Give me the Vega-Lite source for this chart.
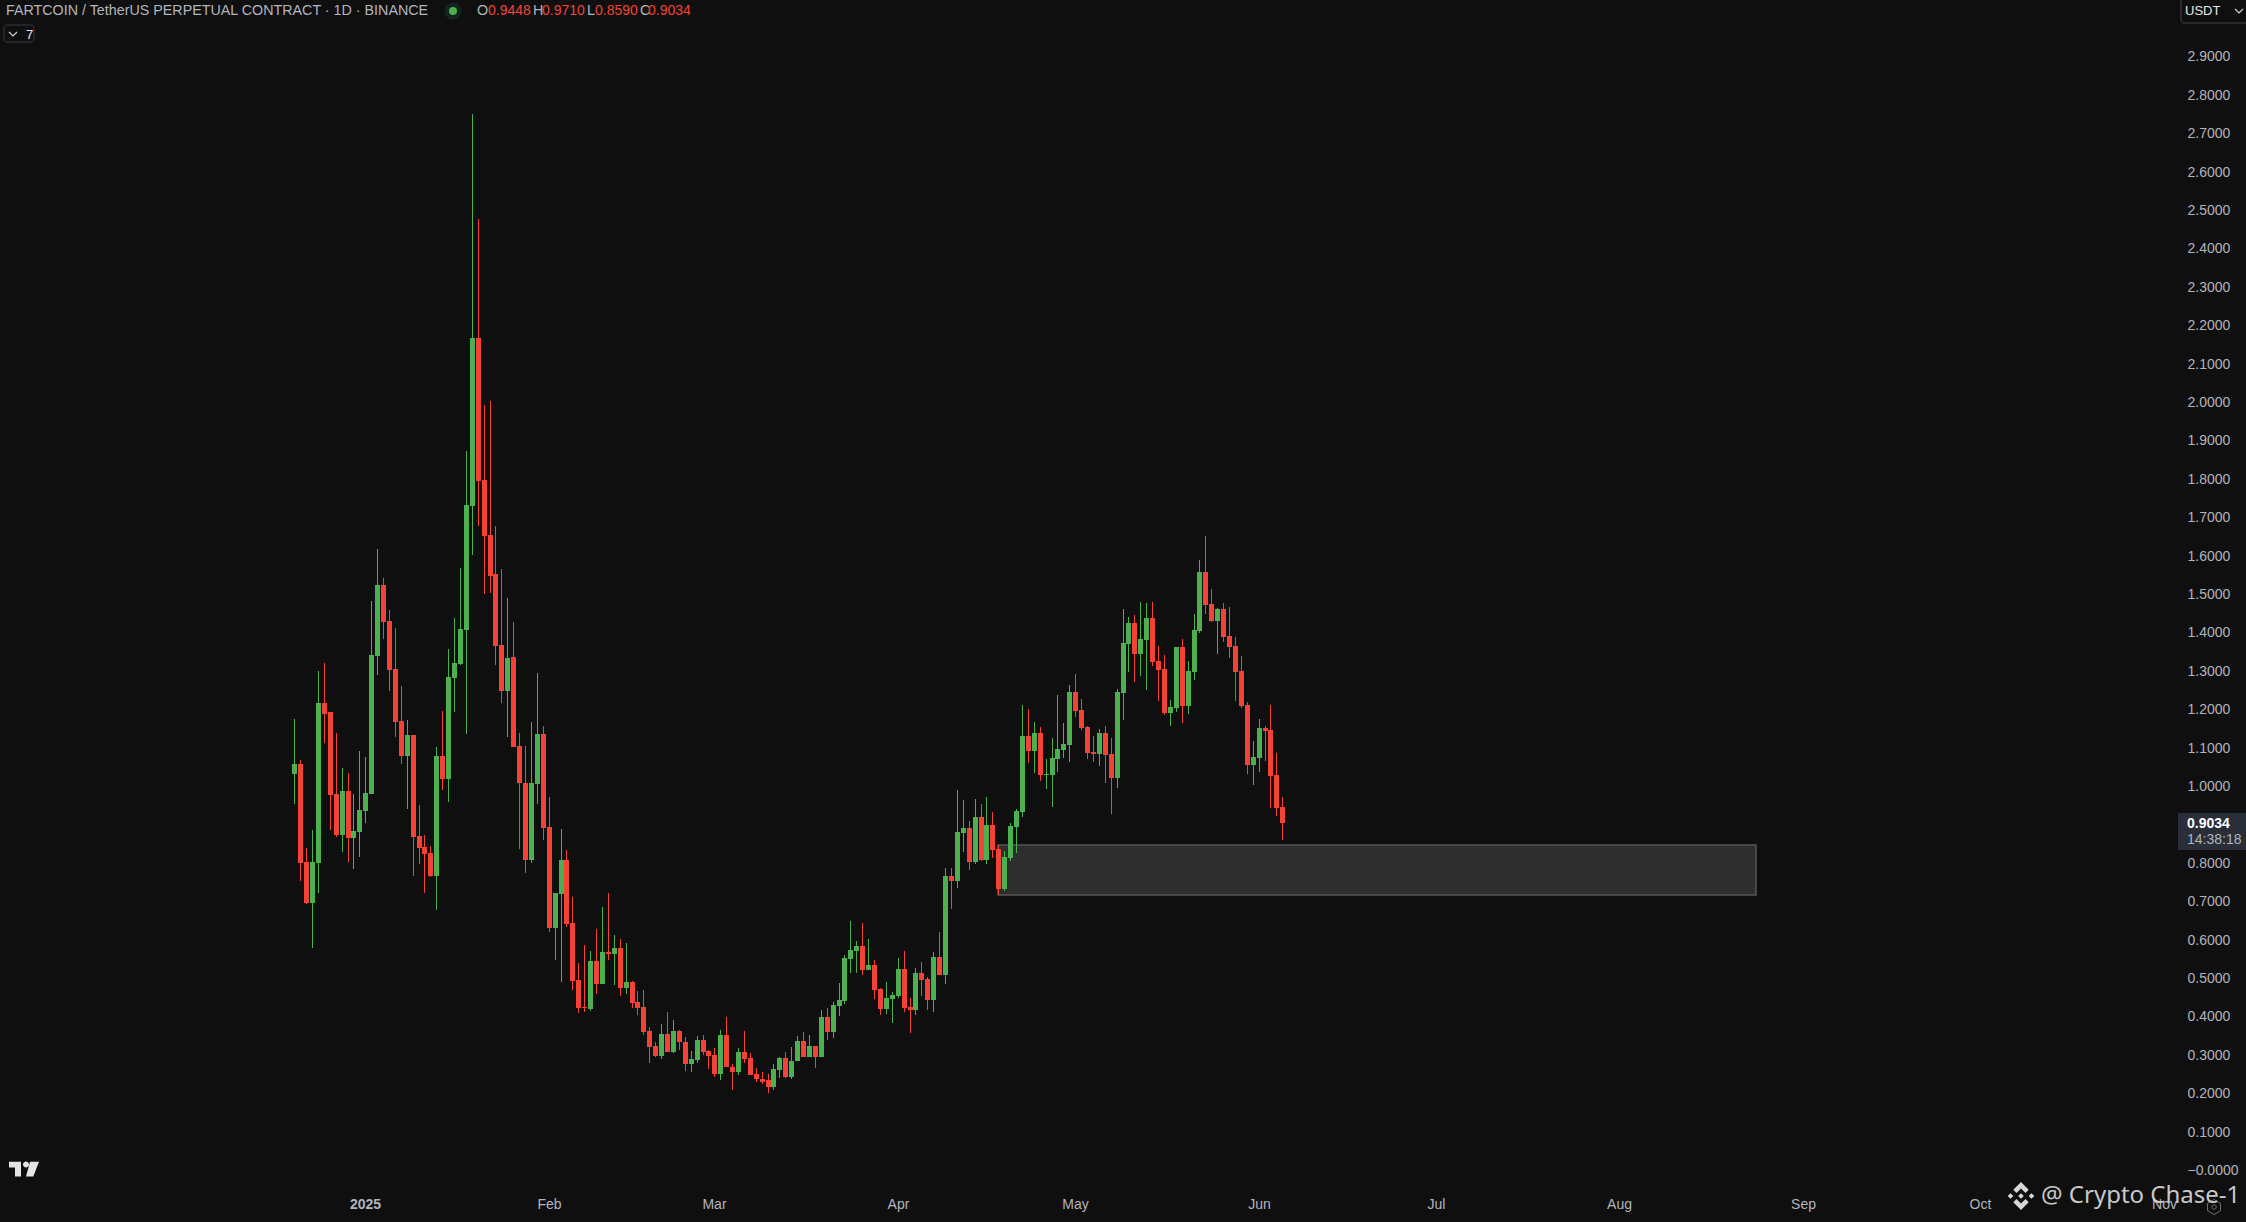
{
  "$schema": "https://vega.github.io/schema/vega-lite/v6.json",
  "width": 2172,
  "height": 1192,
  "padding": {"left": 0, "top": 0, "right": 74, "bottom": 30},
  "autosize": "none",
  "background": "#0F0F0F",
  "config": {
    "view": {"stroke": null},
    "text": {"font": "Liberation Sans"},
    "axis": {"labelFont": "Liberation Sans", "labelFontSize": 14, "labelColor": "#B2B5BE", "grid": false, "domain": false, "ticks": false, "tickSize": 0, "labelOverlap": false, "labelBound": false, "labelFlush": false}
  },
  "data": {"values": [
    {"date":"2024-12-20","open":1.0313,"high":1.1745,"low":0.9540,"close":1.0573},
    {"date":"2024-12-21","open":1.0573,"high":1.0677,"low":0.7526,"close":0.7995},
    {"date":"2024-12-22","open":0.8021,"high":0.8385,"low":0.6927,"close":0.6953},
    {"date":"2024-12-23","open":0.6953,"high":0.8854,"low":0.5781,"close":0.8021},
    {"date":"2024-12-24","open":0.7995,"high":1.2995,"low":0.7214,"close":1.2161},
    {"date":"2024-12-25","open":1.2161,"high":1.3203,"low":1.1120,"close":1.1875},
    {"date":"2024-12-26","open":1.1927,"high":1.1927,"low":0.8854,"close":0.9766},
    {"date":"2024-12-27","open":0.9792,"high":1.1380,"low":0.8672,"close":0.8724},
    {"date":"2024-12-28","open":0.8724,"high":1.0469,"low":0.8281,"close":0.9870},
    {"date":"2024-12-29","open":0.9870,"high":1.0339,"low":0.8021,"close":0.8646},
    {"date":"2024-12-30","open":0.8646,"high":0.9792,"low":0.7839,"close":0.8828},
    {"date":"2024-12-31","open":0.8802,"high":1.0911,"low":0.8151,"close":0.9375},
    {"date":"2025-01-01","open":0.9349,"high":1.0755,"low":0.9036,"close":0.9818},
    {"date":"2025-01-02","open":0.9792,"high":1.4818,"low":0.9792,"close":1.3411},
    {"date":"2025-01-03","open":1.3385,"high":1.6172,"low":1.2891,"close":1.5234},
    {"date":"2025-01-04","open":1.5234,"high":1.5417,"low":1.3828,"close":1.4271},
    {"date":"2025-01-05","open":1.4297,"high":1.4583,"low":1.2474,"close":1.3021},
    {"date":"2025-01-06","open":1.3047,"high":1.4115,"low":1.1276,"close":1.1667},
    {"date":"2025-01-07","open":1.1693,"high":1.2604,"low":1.0573,"close":1.0781},
    {"date":"2025-01-08","open":1.0781,"high":1.1719,"low":0.9401,"close":1.1328},
    {"date":"2025-01-09","open":1.1328,"high":1.1328,"low":0.7656,"close":0.8672},
    {"date":"2025-01-10","open":0.8698,"high":0.9505,"low":0.7969,"close":0.8385},
    {"date":"2025-01-11","open":0.8411,"high":0.8724,"low":0.7214,"close":0.8229},
    {"date":"2025-01-12","open":0.8255,"high":0.8438,"low":0.7630,"close":0.7656},
    {"date":"2025-01-13","open":0.7656,"high":1.1016,"low":0.6771,"close":1.0781},
    {"date":"2025-01-14","open":1.0781,"high":1.1953,"low":0.9896,"close":1.0182},
    {"date":"2025-01-15","open":1.0182,"high":1.3568,"low":0.9583,"close":1.2839},
    {"date":"2025-01-16","open":1.2813,"high":1.4375,"low":1.1927,"close":1.3203},
    {"date":"2025-01-17","open":1.3177,"high":1.5677,"low":1.3151,"close":1.4089},
    {"date":"2025-01-18","open":1.4063,"high":1.8724,"low":1.1354,"close":1.7318},
    {"date":"2025-01-19","open":1.7292,"high":2.7500,"low":1.6016,"close":2.1667},
    {"date":"2025-01-20","open":2.1667,"high":2.4766,"low":1.6771,"close":1.7943},
    {"date":"2025-01-21","open":1.7969,"high":1.9922,"low":1.5000,"close":1.6510},
    {"date":"2025-01-22","open":1.6536,"high":2.0026,"low":1.5026,"close":1.5469},
    {"date":"2025-01-23","open":1.5521,"high":1.6771,"low":1.3151,"close":1.3646},
    {"date":"2025-01-24","open":1.3672,"high":1.5651,"low":1.2161,"close":1.2474},
    {"date":"2025-01-25","open":1.2474,"high":1.4896,"low":1.1276,"close":1.3333},
    {"date":"2025-01-26","open":1.3359,"high":1.4271,"low":1.1016,"close":1.1016},
    {"date":"2025-01-27","open":1.1042,"high":1.1380,"low":0.8359,"close":1.0078},
    {"date":"2025-01-28","open":1.0078,"high":1.1042,"low":0.7734,"close":0.8073},
    {"date":"2025-01-29","open":0.8073,"high":1.1667,"low":0.7995,"close":1.0078},
    {"date":"2025-01-30","open":1.0052,"high":1.2943,"low":0.9531,"close":1.1354},
    {"date":"2025-01-31","open":1.1354,"high":1.1563,"low":0.8594,"close":0.8906},
    {"date":"2025-02-01","open":0.8932,"high":0.9714,"low":0.6198,"close":0.6302},
    {"date":"2025-02-02","open":0.6302,"high":0.7214,"low":0.5469,"close":0.7214},
    {"date":"2025-02-03","open":0.7188,"high":0.8880,"low":0.4896,"close":0.8073},
    {"date":"2025-02-04","open":0.8073,"high":0.8333,"low":0.6328,"close":0.6406},
    {"date":"2025-02-05","open":0.6432,"high":0.7109,"low":0.4688,"close":0.4922},
    {"date":"2025-02-06","open":0.4948,"high":0.5391,"low":0.4089,"close":0.4219},
    {"date":"2025-02-07","open":0.4245,"high":0.5859,"low":0.4115,"close":0.4219},
    {"date":"2025-02-08","open":0.4193,"high":0.5703,"low":0.4141,"close":0.5443},
    {"date":"2025-02-09","open":0.5443,"high":0.6276,"low":0.4583,"close":0.4844},
    {"date":"2025-02-10","open":0.4844,"high":0.6849,"low":0.4844,"close":0.5677},
    {"date":"2025-02-11","open":0.5677,"high":0.7214,"low":0.5469,"close":0.5625},
    {"date":"2025-02-12","open":0.5625,"high":0.6120,"low":0.4818,"close":0.5781},
    {"date":"2025-02-13","open":0.5781,"high":0.6016,"low":0.4531,"close":0.4740},
    {"date":"2025-02-14","open":0.4740,"high":0.5911,"low":0.4583,"close":0.4896},
    {"date":"2025-02-15","open":0.4896,"high":0.4922,"low":0.4219,"close":0.4349},
    {"date":"2025-02-16","open":0.4375,"high":0.4661,"low":0.4036,"close":0.4219},
    {"date":"2025-02-17","open":0.4245,"high":0.4688,"low":0.3516,"close":0.3594},
    {"date":"2025-02-18","open":0.3620,"high":0.3724,"low":0.2786,"close":0.3203},
    {"date":"2025-02-19","open":0.3229,"high":0.3333,"low":0.2943,"close":0.2969},
    {"date":"2025-02-20","open":0.2969,"high":0.3802,"low":0.2891,"close":0.3542},
    {"date":"2025-02-21","open":0.3542,"high":0.4115,"low":0.3073,"close":0.3073},
    {"date":"2025-02-22","open":0.3073,"high":0.3906,"low":0.3047,"close":0.3620},
    {"date":"2025-02-23","open":0.3620,"high":0.3646,"low":0.3125,"close":0.3333},
    {"date":"2025-02-24","open":0.3333,"high":0.3464,"low":0.2578,"close":0.2760},
    {"date":"2025-02-25","open":0.2760,"high":0.3099,"low":0.2552,"close":0.2891},
    {"date":"2025-02-26","open":0.2865,"high":0.3490,"low":0.2786,"close":0.3385},
    {"date":"2025-02-27","open":0.3385,"high":0.3516,"low":0.2995,"close":0.3073},
    {"date":"2025-02-28","open":0.3099,"high":0.3125,"low":0.2630,"close":0.2969},
    {"date":"2025-03-01","open":0.2995,"high":0.3177,"low":0.2422,"close":0.2500},
    {"date":"2025-03-02","open":0.2500,"high":0.3646,"low":0.2344,"close":0.3516},
    {"date":"2025-03-03","open":0.3516,"high":0.3984,"low":0.2682,"close":0.2682},
    {"date":"2025-03-04","open":0.2682,"high":0.2760,"low":0.2083,"close":0.2552},
    {"date":"2025-03-05","open":0.2552,"high":0.3177,"low":0.2474,"close":0.3073},
    {"date":"2025-03-06","open":0.3073,"high":0.3620,"low":0.2786,"close":0.2891},
    {"date":"2025-03-07","open":0.2917,"high":0.3047,"low":0.2474,"close":0.2474},
    {"date":"2025-03-08","open":0.2500,"high":0.2656,"low":0.2292,"close":0.2370},
    {"date":"2025-03-09","open":0.2370,"high":0.2552,"low":0.2240,"close":0.2292},
    {"date":"2025-03-10","open":0.2344,"high":0.2500,"low":0.2005,"close":0.2161},
    {"date":"2025-03-11","open":0.2161,"high":0.2760,"low":0.2083,"close":0.2630},
    {"date":"2025-03-12","open":0.2604,"high":0.2943,"low":0.2396,"close":0.2917},
    {"date":"2025-03-13","open":0.2917,"high":0.3073,"low":0.2396,"close":0.2422},
    {"date":"2025-03-14","open":0.2422,"high":0.3203,"low":0.2370,"close":0.2839},
    {"date":"2025-03-15","open":0.2839,"high":0.3490,"low":0.2839,"close":0.3359},
    {"date":"2025-03-16","open":0.3359,"high":0.3594,"low":0.2943,"close":0.2943},
    {"date":"2025-03-17","open":0.2943,"high":0.3516,"low":0.2943,"close":0.3229},
    {"date":"2025-03-18","open":0.3229,"high":0.3229,"low":0.2656,"close":0.2943},
    {"date":"2025-03-19","open":0.2943,"high":0.4167,"low":0.2943,"close":0.3984},
    {"date":"2025-03-20","open":0.3984,"high":0.4219,"low":0.3385,"close":0.3594},
    {"date":"2025-03-21","open":0.3594,"high":0.4375,"low":0.3438,"close":0.4297},
    {"date":"2025-03-22","open":0.4271,"high":0.4870,"low":0.4010,"close":0.4427},
    {"date":"2025-03-23","open":0.4401,"high":0.5599,"low":0.4323,"close":0.5521},
    {"date":"2025-03-24","open":0.5495,"high":0.6484,"low":0.5130,"close":0.5729},
    {"date":"2025-03-25","open":0.5703,"high":0.5964,"low":0.5130,"close":0.5833},
    {"date":"2025-03-26","open":0.5833,"high":0.6432,"low":0.5078,"close":0.5208},
    {"date":"2025-03-27","open":0.5208,"high":0.6016,"low":0.5208,"close":0.5339},
    {"date":"2025-03-28","open":0.5339,"high":0.5469,"low":0.4453,"close":0.4688},
    {"date":"2025-03-29","open":0.4714,"high":0.4740,"low":0.4036,"close":0.4193},
    {"date":"2025-03-30","open":0.4193,"high":0.4896,"low":0.4063,"close":0.4479},
    {"date":"2025-03-31","open":0.4453,"high":0.4635,"low":0.3828,"close":0.4557},
    {"date":"2025-04-01","open":0.4531,"high":0.5521,"low":0.4479,"close":0.5234},
    {"date":"2025-04-02","open":0.5234,"high":0.5703,"low":0.4115,"close":0.4219},
    {"date":"2025-04-03","open":0.4245,"high":0.4479,"low":0.3568,"close":0.4167},
    {"date":"2025-04-04","open":0.4167,"high":0.5260,"low":0.4036,"close":0.5130},
    {"date":"2025-04-05","open":0.5130,"high":0.5417,"low":0.4531,"close":0.4948},
    {"date":"2025-04-06","open":0.4974,"high":0.5026,"low":0.4167,"close":0.4427},
    {"date":"2025-04-07","open":0.4427,"high":0.5677,"low":0.4115,"close":0.5547},
    {"date":"2025-04-08","open":0.5547,"high":0.6198,"low":0.5078,"close":0.5078},
    {"date":"2025-04-09","open":0.5078,"high":0.7865,"low":0.4844,"close":0.7656},
    {"date":"2025-04-10","open":0.7656,"high":0.7865,"low":0.6797,"close":0.7526},
    {"date":"2025-04-11","open":0.7526,"high":0.9896,"low":0.7344,"close":0.8802},
    {"date":"2025-04-12","open":0.8776,"high":0.9635,"low":0.8281,"close":0.8906},
    {"date":"2025-04-13","open":0.8906,"high":0.9089,"low":0.7813,"close":0.8021},
    {"date":"2025-04-14","open":0.8021,"high":0.9661,"low":0.7969,"close":0.9193},
    {"date":"2025-04-15","open":0.9193,"high":0.9531,"low":0.8047,"close":0.8073},
    {"date":"2025-04-16","open":0.8073,"high":0.9714,"low":0.7969,"close":0.8984},
    {"date":"2025-04-17","open":0.8984,"high":0.9323,"low":0.8125,"close":0.8333},
    {"date":"2025-04-18","open":0.8359,"high":0.8464,"low":0.7161,"close":0.7318},
    {"date":"2025-04-19","open":0.7318,"high":0.8307,"low":0.7266,"close":0.8151},
    {"date":"2025-04-20","open":0.8125,"high":0.9036,"low":0.8047,"close":0.8958},
    {"date":"2025-04-21","open":0.8932,"high":0.9401,"low":0.8255,"close":0.9349},
    {"date":"2025-04-22","open":0.9323,"high":1.2109,"low":0.9193,"close":1.1302},
    {"date":"2025-04-23","open":1.1302,"high":1.2005,"low":1.0599,"close":1.0911},
    {"date":"2025-04-24","open":1.0911,"high":1.1667,"low":1.0339,"close":1.1380},
    {"date":"2025-04-25","open":1.1380,"high":1.1536,"low":1.0130,"close":1.0286},
    {"date":"2025-04-26","open":1.0286,"high":1.0703,"low":0.9922,"close":1.0313},
    {"date":"2025-04-27","open":1.0286,"high":1.1250,"low":0.9453,"close":1.0729},
    {"date":"2025-04-28","open":1.0703,"high":1.2370,"low":1.0365,"close":1.0964},
    {"date":"2025-04-29","open":1.0938,"high":1.1641,"low":1.0729,"close":1.1094},
    {"date":"2025-04-30","open":1.1068,"high":1.2630,"low":1.0625,"close":1.2448},
    {"date":"2025-05-01","open":1.2448,"high":1.2917,"low":1.1797,"close":1.1953},
    {"date":"2025-05-02","open":1.1979,"high":1.2266,"low":1.1458,"close":1.1510},
    {"date":"2025-05-03","open":1.1536,"high":1.1563,"low":1.0703,"close":1.0859},
    {"date":"2025-05-04","open":1.0885,"high":1.1302,"low":1.0625,"close":1.0833},
    {"date":"2025-05-05","open":1.0833,"high":1.1484,"low":1.0521,"close":1.1380},
    {"date":"2025-05-06","open":1.1380,"high":1.1563,"low":1.0078,"close":1.0807},
    {"date":"2025-05-07","open":1.0833,"high":1.1250,"low":0.9271,"close":1.0208},
    {"date":"2025-05-08","open":1.0208,"high":1.2526,"low":0.9948,"close":1.2448},
    {"date":"2025-05-09","open":1.2422,"high":1.4609,"low":1.1719,"close":1.3724},
    {"date":"2025-05-10","open":1.3698,"high":1.4401,"low":1.2969,"close":1.4245},
    {"date":"2025-05-11","open":1.4245,"high":1.4453,"low":1.2708,"close":1.3438},
    {"date":"2025-05-12","open":1.3438,"high":1.4792,"low":1.2865,"close":1.3828},
    {"date":"2025-05-13","open":1.3802,"high":1.4766,"low":1.2500,"close":1.4375},
    {"date":"2025-05-14","open":1.4375,"high":1.4792,"low":1.3125,"close":1.3229},
    {"date":"2025-05-15","open":1.3255,"high":1.3646,"low":1.2214,"close":1.3021},
    {"date":"2025-05-16","open":1.3047,"high":1.3411,"low":1.1849,"close":1.1901},
    {"date":"2025-05-17","open":1.1901,"high":1.2240,"low":1.1563,"close":1.2057},
    {"date":"2025-05-18","open":1.2031,"high":1.3620,"low":1.1927,"close":1.3620},
    {"date":"2025-05-19","open":1.3620,"high":1.3828,"low":1.1641,"close":1.2083},
    {"date":"2025-05-20","open":1.2083,"high":1.3255,"low":1.1875,"close":1.2995},
    {"date":"2025-05-21","open":1.2969,"high":1.4479,"low":1.2760,"close":1.4063},
    {"date":"2025-05-22","open":1.4036,"high":1.5885,"low":1.3984,"close":1.5573},
    {"date":"2025-05-23","open":1.5573,"high":1.6510,"low":1.4479,"close":1.4714},
    {"date":"2025-05-24","open":1.4740,"high":1.5130,"low":1.4271,"close":1.4297},
    {"date":"2025-05-25","open":1.4297,"high":1.4635,"low":1.3438,"close":1.4609},
    {"date":"2025-05-26","open":1.4609,"high":1.4766,"low":1.3750,"close":1.3880},
    {"date":"2025-05-27","open":1.3906,"high":1.4661,"low":1.3333,"close":1.3620},
    {"date":"2025-05-28","open":1.3646,"high":1.3880,"low":1.2214,"close":1.2969},
    {"date":"2025-05-29","open":1.2995,"high":1.3385,"low":1.2031,"close":1.2083},
    {"date":"2025-05-30","open":1.2109,"high":1.2188,"low":1.0313,"close":1.0547},
    {"date":"2025-05-31","open":1.0547,"high":1.1172,"low":1.0026,"close":1.0755},
    {"date":"2025-06-01","open":1.0729,"high":1.1745,"low":1.0365,"close":1.1510},
    {"date":"2025-06-02","open":1.1510,"high":1.1563,"low":1.0651,"close":1.1432},
    {"date":"2025-06-03","open":1.1458,"high":1.2109,"low":0.9427,"close":1.0260},
    {"date":"2025-06-04","open":1.0286,"high":1.0859,"low":0.9219,"close":0.9427},
    {"date":"2025-06-05","open":0.9448,"high":0.9710,"low":0.8590,"close":0.9034}
  ]},
  "encoding": {
    "x": {
      "field": "date",
      "type": "temporal",
      "title": null,
      "scale": {"type": "utc", "domain": [1730354400000, 1762076160000], "round": true, "padding": 0},
      "axis": {
        "values": [1735689600000, 1738368000000, 1740787200000, 1743465600000, 1746057600000, 1748736000000, 1751328000000, 1754006400000, 1756684800000, 1759276800000, 1761955200000],
        "labelExpr": "utcmonth(datum.value) == 0 ? '2025' : utcFormat(datum.value, '%b')",
        "labelFontWeight": {"condition": {"test": "utcmonth(datum.value) == 0", "value": "bold"}, "value": "normal"},
        "labelPadding": 5
      }
    }
  },
  "layer": [
    {
      "data": {"values": [{"date": "2025-04-18", "date2": "2025-08-24", "price": 0.8456, "price2": 0.7154}]},
      "mark": {"type": "rect", "fill": "#2E2E2E", "stroke": "#555555", "strokeWidth": 1.5},
      "encoding": {
        "x2": {"field": "date2"},
        "y": {
          "field": "price",
          "type": "quantitative",
          "title": null,
          "scale": {"domain": [-0.05729, 3.046875], "nice": false, "zero": false, "round": true, "padding": 0},
          "axis": {
            "orient": "right",
            "values": [2.9, 2.8, 2.7, 2.6, 2.5, 2.4, 2.3, 2.2, 2.1, 2.0, 1.9, 1.8, 1.7, 1.6, 1.5, 1.4, 1.3, 1.2, 1.1, 1.0, 0.8, 0.7, 0.6, 0.5, 0.4, 0.3, 0.2, 0.1, 0],
            "labelExpr": "datum.value == 0 ? '\u22120.0000' : format(datum.value, '.4f')",
            "labelAlign": "left",
            "labelPadding": 15
          }
        },
        "y2": {"field": "price2"}
      }
    },
    {
      "mark": {"type": "rule", "strokeWidth": 1, "xOffset": 0.5},
      "encoding": {
        "y": {"field": "low", "type": "quantitative", "title": null},
        "y2": {"field": "high"},
        "color": {"condition": {"test": "datum.close >= datum.open", "value": "#4CAF50"}, "value": "#F44336"}
      }
    },
    {
      "mark": {"type": "bar", "size": 5, "xOffset": 0.5},
      "encoding": {
        "y": {"field": "open", "type": "quantitative", "title": null},
        "y2": {"field": "close"},
        "color": {"condition": {"test": "datum.close >= datum.open", "value": "#4CAF50"}, "value": "#F44336"}
      }
    },
    {
      "data": {"values": [
        {"date": "2024-10-31T21:00:00Z", "date2": "2024-11-06T00:00:00Z", "price": 2.9818, "price2": 2.9375}
      ]},
      "mark": {"type": "rect", "fill": "#0F0F0F", "stroke": "#363A45", "strokeWidth": 1, "cornerRadius": 3},
      "encoding": {"x2": {"field": "date2"}, "y": {"field": "price", "type": "quantitative", "title": null}, "y2": {"field": "price2"}}
    },
    {
      "data": {"values": [
        {"date": "2025-11-03T22:00:00Z", "date2": "2025-11-15T14:00:00Z", "price": 3.06, "price2": 2.987}
      ]},
      "mark": {"type": "rect", "fill": "#0F0F0F", "stroke": "#434651", "strokeWidth": 1, "cornerRadius": 3},
      "encoding": {"x2": {"field": "date2"}, "y": {"field": "price", "type": "quantitative", "title": null}, "y2": {"field": "price2"}}
    },
    {
      "data": {"values": [
        {"date": "2025-11-03T10:00:00Z", "date2": "2025-11-15T14:00:00Z", "price": 0.9297, "price2": 0.8333}
      ]},
      "mark": {"type": "rect", "fill": "#2A2E39"},
      "encoding": {"x2": {"field": "date2"}, "y": {"field": "price", "type": "quantitative", "title": null}, "y2": {"field": "price2"}}
    },
    {
      "data": {"values": [
        {"date": "2024-11-01T06:00:00Z", "price": 3.018, "label": "FARTCOIN / TetherUS PERPETUAL CONTRACT \u00b7 1D \u00b7 BINANCE"},
        {"date": "2025-01-19T23:00:00Z", "price": 3.018, "label": "O"},
        {"date": "2025-01-29T06:45:00Z", "price": 3.018, "label": "H"},
        {"date": "2025-02-07T11:30:00Z", "price": 3.018, "label": "L"},
        {"date": "2025-02-16T10:00:00Z", "price": 3.018, "label": "C"}
      ]},
      "mark": {"type": "text", "align": "left", "baseline": "middle", "fontSize": 14.3, "color": "#B2B5BE"},
      "encoding": {"y": {"field": "price", "type": "quantitative", "title": null}, "text": {"field": "label"}}
    },
    {
      "data": {"values": [
        {"date": "2025-01-21T16:00:00Z", "price": 3.018, "label": "0.9448"},
        {"date": "2025-01-30T21:00:00Z", "price": 3.018, "label": "0.9710"},
        {"date": "2025-02-08T18:00:00Z", "price": 3.018, "label": "0.8590"},
        {"date": "2025-02-17T19:00:00Z", "price": 3.018, "label": "0.9034"}
      ]},
      "mark": {"type": "text", "align": "left", "baseline": "middle", "fontSize": 14, "color": "#F44336"},
      "encoding": {"y": {"field": "price", "type": "quantitative", "title": null}, "text": {"field": "label"}}
    },
    {
      "data": {"values": [{"date": "2025-01-15T19:40:00Z", "price": 3.018}]},
      "mark": {"type": "point", "filled": true, "size": 300, "color": "#142320", "opacity": 1},
      "encoding": {"y": {"field": "price", "type": "quantitative", "title": null}}
    },
    {
      "data": {"values": [{"date": "2025-01-15T19:40:00Z", "price": 3.018}]},
      "mark": {"type": "point", "filled": true, "size": 64, "color": "#4CAF50", "opacity": 1},
      "encoding": {"y": {"field": "price", "type": "quantitative", "title": null}}
    },
    {
      "data": {"values": [
        {"date": "2024-11-04T15:00:00Z", "price": 2.9557, "label": "7"},
        {"date": "2025-11-04T14:00:00Z", "price": 3.018, "label": "USDT"}
      ]},
      "mark": {"type": "text", "align": "left", "baseline": "middle", "fontSize": 13, "color": "#E8E8E8"},
      "encoding": {"y": {"field": "price", "type": "quantitative", "title": null}, "text": {"field": "label"}}
    },
    {
      "data": {"values": [
        {"date": "2024-11-02T11:00:00Z", "price": 2.9596},
        {"date": "2025-11-13T18:00:00Z", "price": 3.018}
      ]},
      "mark": {"type": "point", "shape": "M-1 -0.5L0 0.5L1 -0.5", "filled": false, "size": 64, "stroke": "#D1D4DC", "strokeWidth": 1.2, "opacity": 1},
      "encoding": {"y": {"field": "price", "type": "quantitative", "title": null}}
    },
    {
      "data": {"values": [{"date": "2025-11-04T22:00:00Z", "price": 0.9010, "label": "0.9034"}]},
      "mark": {"type": "text", "align": "left", "baseline": "middle", "fontSize": 14, "fontWeight": "bold", "color": "#FFFFFF"},
      "encoding": {"y": {"field": "price", "type": "quantitative", "title": null}, "text": {"field": "label"}}
    },
    {
      "data": {"values": [{"date": "2025-11-04T22:00:00Z", "price": 0.8594, "label": "14:38:18"}]},
      "mark": {"type": "text", "align": "left", "baseline": "middle", "fontSize": 14, "color": "#B2B5BE"},
      "encoding": {"y": {"field": "price", "type": "quantitative", "title": null}, "text": {"field": "label"}}
    },
    {
      "data": {"values": [{"date": "2024-11-04T07:00:00Z", "price": 0.0039}]},
      "mark": {"type": "point", "shape": "M-1 -0.48L-0.2 -0.48L-0.2 0.5L-0.6 0.5L-0.6 -0.1L-1 -0.1ZM-0.067 -0.3A0.2 0.2 0 1 1 0.333 -0.3A0.2 0.2 0 1 1 -0.067 -0.3ZM0.4 -0.48L1 -0.48L0.62 0.5L0.133 0.5Z", "filled": true, "size": 900, "color": "#E4E4E4", "opacity": 1, "strokeWidth": 0},
      "encoding": {"y": {"field": "price", "type": "quantitative", "title": null}}
    },
    {
      "data": {"values": [{"date": "2025-11-09T12:00:00Z", "price": -0.0964}]},
      "mark": {"type": "point", "shape": "M0 -1L0.87 -0.5L0.87 0.5L0 1L-0.87 0.5L-0.87 -0.5ZM0.3 0A0.3 0.3 0 1 1 -0.3 0A0.3 0.3 0 1 1 0.3 0Z", "filled": false, "size": 225, "stroke": "#6A6D78", "strokeWidth": 1, "opacity": 1},
      "encoding": {"y": {"field": "price", "type": "quantitative", "title": null}}
    },
    {
      "data": {"values": [{"date": "2025-10-07T20:00:00Z", "price": -0.0669}]},
      "mark": {"type": "point", "shape": "M0 -0.2L0.2 0L0 0.2L-0.2 0ZM-0.75 -0.2L-0.55 0L-0.75 0.2L-0.95 0ZM0.75 -0.2L0.95 0L0.75 0.2L0.55 0ZM0 -1L0.55 -0.45L0.32 -0.22L0 -0.54L-0.32 -0.22L-0.55 -0.45ZM0 1L0.55 0.45L0.32 0.22L0 0.54L-0.32 0.22L-0.55 0.45Z", "filled": true, "size": 784, "color": "#D8D8D8", "opacity": 1, "strokeWidth": 0},
      "encoding": {"y": {"field": "price", "type": "quantitative", "title": null}}
    },
    {
      "data": {"values": [{"date": "2025-10-11T05:00:00Z", "price": -0.0677, "label": "@ Crypto Chase-1"}]},
      "mark": {"type": "text", "align": "left", "baseline": "middle", "font": "Noto Sans", "fontSize": 24, "color": "#D8D8D8", "opacity": 0.92},
      "encoding": {"y": {"field": "price", "type": "quantitative", "title": null}, "text": {"field": "label"}}
    }
  ]
}
